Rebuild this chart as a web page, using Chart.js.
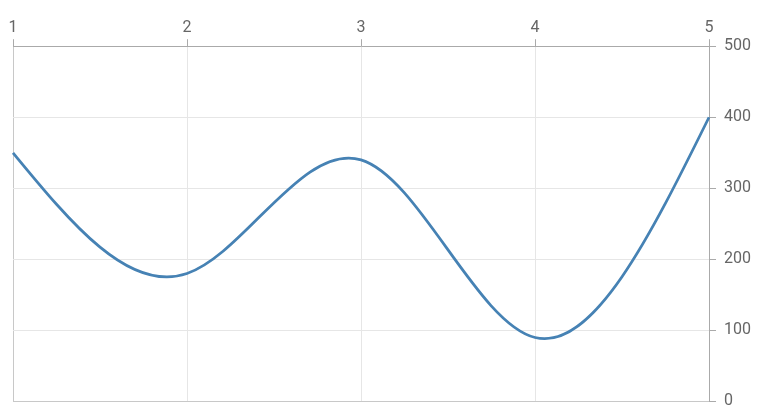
<!DOCTYPE html>
<html lang="en">
<head>
    <meta charset="UTF-8">
    <title>Smooth line</title>
    <script src="https://cdn.jsdelivr.net/npm/chart.js"></script>
    <style>
        body { margin: 0; background: #fff; }
        canvas { display: block; }
    </style>
</head>
<body>
    <canvas id="lineChart" width="768" height="419"></canvas>

    <script>
        // Data
        const xLabels = ['1', '2', '3', '4', '5'];
        const values = [350, 180, 340, 90, 400];
        const yTicks = [0, 100, 200, 300, 400, 500];

        // Slopes of a natural cubic spline through the given points
        function naturalSlopes(xs, ys) {
            const n = xs.length;
            const M = new Array(n).fill(0);
            if (n > 2) {
                const a = [], b = [], c = [], d = [];
                for (let i = 1; i < n - 1; i++) {
                    const h0 = xs[i] - xs[i - 1], h1 = xs[i + 1] - xs[i];
                    a.push(h0); b.push(2 * (h0 + h1)); c.push(h1);
                    d.push(6 * ((ys[i + 1] - ys[i]) / h1 - (ys[i] - ys[i - 1]) / h0));
                }
                const m = b.length;
                for (let i = 1; i < m; i++) {
                    const w = a[i] / b[i - 1];
                    b[i] -= w * c[i - 1];
                    d[i] -= w * d[i - 1];
                }
                const sol = new Array(m);
                sol[m - 1] = d[m - 1] / b[m - 1];
                for (let i = m - 2; i >= 0; i--) sol[i] = (d[i] - c[i] * sol[i + 1]) / b[i];
                for (let i = 0; i < m; i++) M[i + 1] = sol[i];
            }
            const D = [];
            for (let i = 0; i < n - 1; i++) {
                const h = xs[i + 1] - xs[i];
                D.push((ys[i + 1] - ys[i]) / h - h * (2 * M[i] + M[i + 1]) / 6);
            }
            const h = xs[n - 1] - xs[n - 2];
            D.push((ys[n - 1] - ys[n - 2]) / h + h * (M[n - 2] + 2 * M[n - 1]) / 6);
            return D;
        }

        // Replace Chart.js bezier control points with natural spline ones
        const naturalCurve = {
            id: 'naturalCurve',
            beforeDatasetDraw(chart, args) {
                const meta = args.meta;
                const line = meta.dataset;
                const pts = meta.data;
                if (!line || pts.length < 3) return;
                line.updateControlPoints(chart.chartArea, meta.iScale.axis);
                const xs = pts.map(p => p.x);
                const ys = pts.map(p => p.y);
                const D = naturalSlopes(xs, ys);
                pts.forEach((p, i) => {
                    const hl = i > 0 ? (xs[i] - xs[i - 1]) / 3 : 0;
                    const hr = i < pts.length - 1 ? (xs[i + 1] - xs[i]) / 3 : 0;
                    p.cp1x = xs[i] - hl;
                    p.cp1y = ys[i] - D[i] * hl;
                    p.cp2x = xs[i] + hr;
                    p.cp2y = ys[i] + D[i] * hr;
                });
                line._path = undefined;
            }
        };

        const gridColor = '#e6e6e6';
        const edgeColor = '#c8c8c8';
        const axisColor = '#aaaaaa';

        Chart.defaults.font.family = 'Roboto';
        Chart.defaults.font.size = 16;
        Chart.defaults.color = '#666';

        const ctx = document.getElementById('lineChart').getContext('2d');
        new Chart(ctx, {
            type: 'line',
            data: {
                labels: xLabels,
                datasets: [{
                    data: values,
                    borderColor: '#4682b4',
                    borderWidth: 2.75,
                    pointRadius: 0,
                    tension: 0.4,
                    fill: false
                }]
            },
            options: {
                responsive: false,
                animation: false,
                layout: { padding: { left: 13, top: 16, right: 9, bottom: 12 } },
                plugins: { legend: { display: false }, tooltip: { enabled: false } },
                scales: {
                    x: {
                        position: 'top',
                        offset: false,
                        border: { color: axisColor, width: 1 },
                        grid: {
                            color: c => c.index === 0 ? edgeColor : gridColor,
                            tickColor: axisColor,
                            tickLength: 7
                        },
                        ticks: { padding: 2, maxRotation: 0 }
                    },
                    y: {
                        position: 'right',
                        min: yTicks[0],
                        max: yTicks[yTicks.length - 1],
                        border: { color: axisColor, width: 1 },
                        grid: {
                            color: c => c.tick && c.tick.value === 0 ? edgeColor : gridColor,
                            tickColor: axisColor,
                            tickLength: 7
                        },
                        afterBuildTicks: axis => { axis.ticks = yTicks.map(v => ({ value: v })); },
                        ticks: { padding: 8 }
                    }
                }
            },
            plugins: [naturalCurve]
        });
    </script>
</body>
</html>
